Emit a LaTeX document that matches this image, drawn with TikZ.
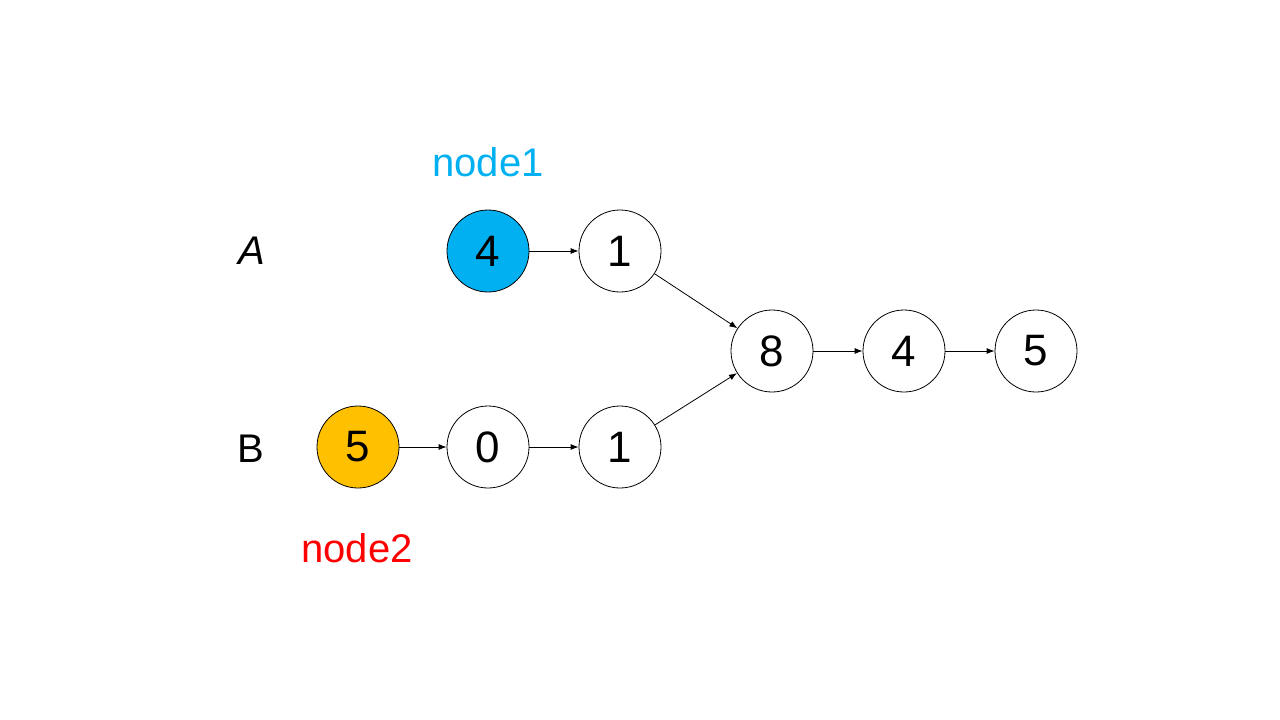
\documentclass[tikz,border=0pt]{standalone}
\usepackage{fontspec}
\setmainfont{Liberation Sans}
\usetikzlibrary{arrows.meta}
\definecolor{pblue}{HTML}{00B0F0}
\definecolor{porange}{HTML}{FFC000}
\definecolor{pred}{HTML}{FF0000}
\begin{document}
\begin{tikzpicture}[x=1pt,y=-1pt,
  lnode/.style={circle,draw=black,line width=0.8pt,minimum size=82pt,inner sep=0pt,fill=white,font=\fontsize{44}{48}\selectfont},
  lbl/.style={font=\fontsize{40}{44}\selectfont},
  link/.style={line width=0.8pt,-{Latex[length=8pt,width=6pt]}}]
\useasboundingbox[fill=white] (0,0) rectangle (1280,720);
\node[lnode,fill=pblue] (a1) at (488,251) {4};
\node[lnode] (a2) at (620,251) {1};
\node[lnode,fill=porange] (b1) at (358,447) {5};
\node[lnode] (b2) at (488,447) {0};
\node[lnode] (b3) at (620,447) {1};
\node[lnode] (c1) at (772,351) {8};
\node[lnode] (c2) at (904,351) {4};
\node[lnode] (c3) at (1036,351) {5};
\node[lbl] (la) at (252,251) {\textit{A}};
\node[lbl] (lb) at (251,449) {B};
\node[lbl,text=pblue] (n1) at (488,162) {node1};
\node[lbl,text=pred] (n2) at (357,548) {node2};
\draw[link] (a1) -- (a2);
\draw[link] (a2) -- (c1);
\draw[link] (b1) -- (b2);
\draw[link] (b2) -- (b3);
\draw[link] (b3) -- (c1);
\draw[link] (c1) -- (c2);
\draw[link] (c2) -- (c3);
\end{tikzpicture}
\end{document}
